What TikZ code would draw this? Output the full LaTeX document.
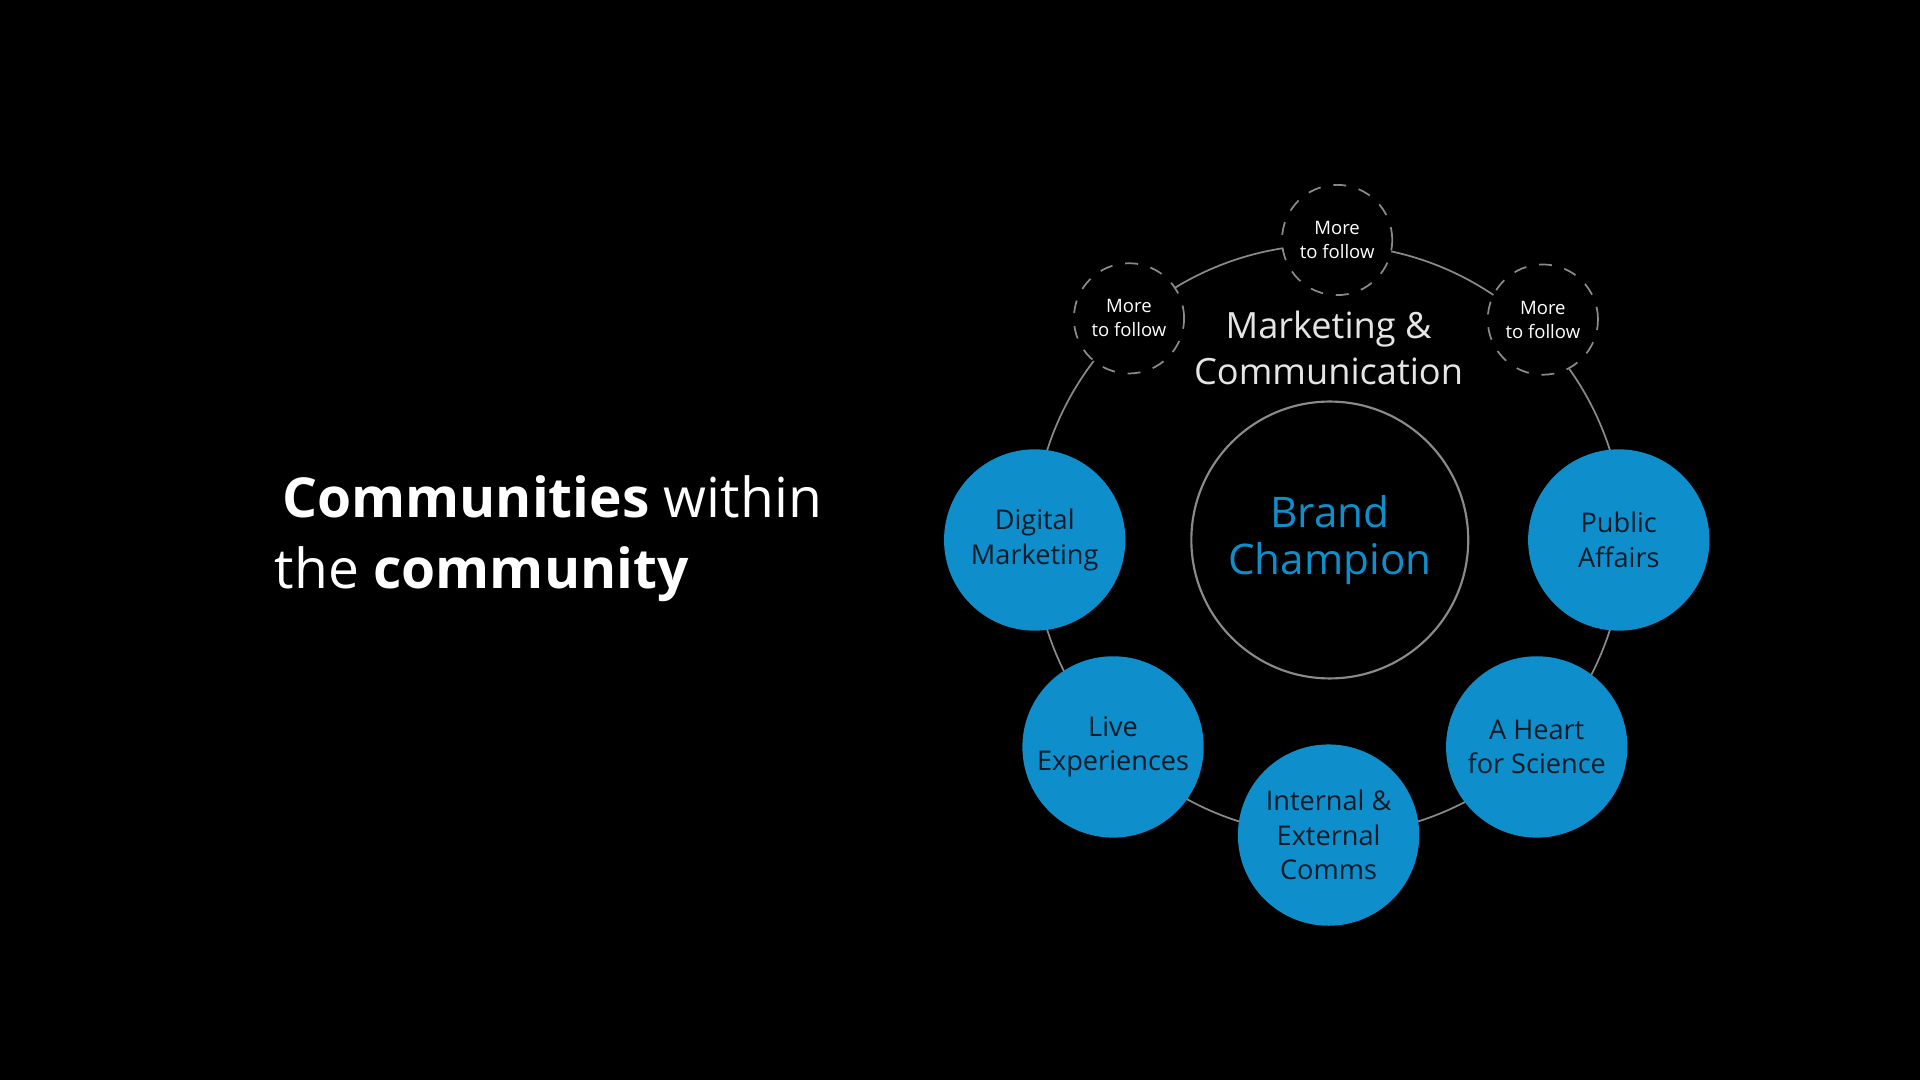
\documentclass[tikz,border=0pt]{standalone}
\usepackage{fontspec}
\setmainfont{Open Sans}
\definecolor{blu}{HTML}{0E8FCB}
\definecolor{ringc}{HTML}{8A8A8A}
\definecolor{dark}{HTML}{0B1A26}
\begin{document}
\begin{tikzpicture}[x=0.01cm,y=-0.01cm,
  comm/.style={circle,fill=blu,minimum size=148\pgflinewidth*0+1.48cm,inner sep=0pt,align=center,text=dark,font=\fontsize{6.3pt}{8pt}\selectfont},
  more/.style={circle,draw=ringc,dashed,fill=black,minimum size=0.9cm,inner sep=0pt,align=center,text=white,font=\fontsize{4.3pt}{5.6pt}\selectfont}]
\fill[black] (0,0) rectangle (1568,882);
\useasboundingbox (0,0) rectangle (1568,882);
\coordinate (c) at (1085,441);
\draw[ringc,line width=0.4pt] (c) circle[radius=2.41cm];
\node[circle,draw=ringc,line width=0.5pt,minimum size=2.26cm,inner sep=0pt,align=center,text=blu,font=\fontsize{9.8pt}{11pt}\selectfont] (bc) at (1086,441) {Brand\\Champion};
\node[align=center,text=white!90!black,font=\fontsize{8.4pt}{10.8pt}\selectfont] (mc) at (1085,284) {Marketing \&\\Communication};
\node[more] (m1) at (922,260) {More\\to follow};
\node[more] (m2) at (1092,196) {More\\to follow};
\node[more] (m3) at (1260,261) {More\\to follow};
\node[comm] (dm) at (845,441) {Digital\\Marketing};
\node[comm] (pa) at (1322,441) {Public\\Affairs};
\node[comm] (le) at (909,610) {Live\\Experiences};
\node[comm] (hs) at (1255,610) {A Heart\\for Science};
\node[comm] (ie) at (1085,682) {Internal \&\\External\\Comms};
\node[anchor=west,text=white,font=\fontsize{12.8pt}{16.5pt}\selectfont,align=left] (t) at (212,440) {\hspace*{0.06cm}\textbf{Communities} within\\the \textbf{community}};
\end{tikzpicture}
\end{document}
